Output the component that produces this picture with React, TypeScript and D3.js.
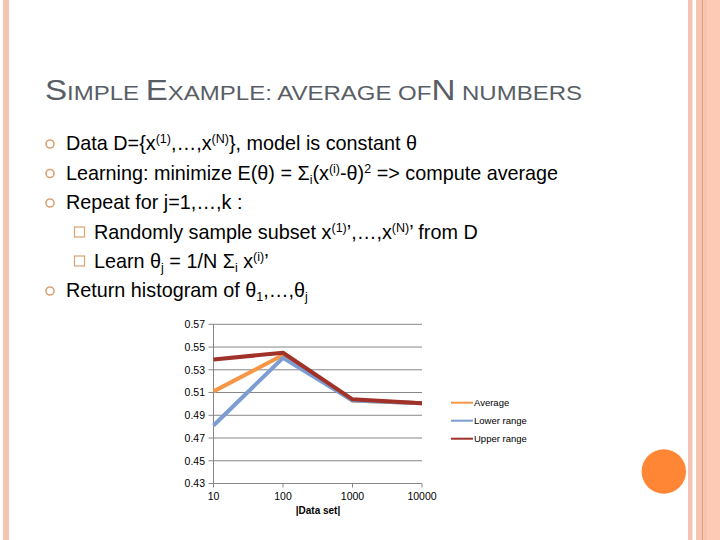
import React from "react";
import * as d3 from "d3";

const categories = ["10", "100", "1000", "10000"];
const averageVals = [0.511, 0.543, 0.503, 0.5005];
const lowerVals = [0.481, 0.5405, 0.503, 0.5005];
const upperVals = [0.539, 0.545, 0.504, 0.5005];
const yTickValues = [0.43, 0.45, 0.47, 0.49, 0.51, 0.53, 0.55, 0.57];
const seriesNames = ["Average", "Lower range", "Upper range"];
const xAxisTitle = "|Data set|";

const COLORS = ["#F79646", "#7C9CD2", "#A0322A"];
const FONT = "'Liberation Sans', Arial, sans-serif";

export default function App() {
  const W = 720, H = 540;
  const x = d3.scalePoint<string>().domain(categories).range([213.5, 422]);
  const y = d3.scaleLinear().domain([0.43, 0.57]).range([483.5, 324.3]);
  const line = d3
    .line<number>()
    .x((_, i) => x(categories[i]) as number)
    .y((d) => y(d));
  const series = [averageVals, lowerVals, upperVals];

  const bulletY = [150, 179.5, 209, 238.5, 267.5, 297];
  const fs = 19.8;
  const sup = { fontSize: 12.5 };

  return (
    <svg
      width={W}
      height={H}
      style={{ position: "absolute", left: 0, top: 0, background: "#fff" }}
      fontFamily={FONT}
    >
      <rect x={0} y={0} width={W} height={H} fill="#fff" />
      {/* borders */}
      <rect x={3} y={0} width={6} height={H} fill="#F5C4B1" />
      <rect x={688} y={0} width={4.5} height={H} fill="#F4C3B1" />
      <rect x={696} y={0} width={6} height={H} fill="#F8C3AF" />
      <rect x={702} y={0} width={1.3} height={H} fill="#E69C70" />
      <rect x={703.3} y={0} width={3.7} height={H} fill="#F8C3AF" />
      <rect x={707} y={0} width={13} height={H} fill="#FDCAB6" />
      <circle cx={663.8} cy={471.5} r={22.2} fill="#FF8635" />

      {/* title */}
      <text x={45} y={99.5} fill="#595E66" textLength={537} lengthAdjust="spacingAndGlyphs">
        <tspan fontSize={29}>S</tspan>
        <tspan fontSize={21}>IMPLE </tspan>
        <tspan fontSize={29}>E</tspan>
        <tspan fontSize={21}>XAMPLE: AVERAGE OF</tspan>
        <tspan fontSize={29}>N</tspan>
        <tspan fontSize={21}> NUMBERS</tspan>
      </text>

      {/* bullets */}
      {[0, 1, 2, 5].map((i) => (
        <circle key={i} cx={50} cy={bulletY[i] - 6} r={4} fill="none" stroke="#D9A274" strokeWidth={1.6} />
      ))}
      {[3, 4].map((i) => (
        <rect key={i} x={74.5} y={bulletY[i] - 11.5} width={10} height={10} fill="none" stroke="#D9A274" strokeWidth={1.2} />
      ))}
      <g fontSize={fs} fill="#000">
        <text x={66} y={bulletY[0]}>
          Data D={"{"}x<tspan {...sup} dy={-7}>(1)</tspan>
          <tspan dy={7}>,…,x</tspan>
          <tspan {...sup} dy={-7}>(N)</tspan>
          <tspan dy={7}>{"}"}, model is constant θ</tspan>
        </text>
        <text x={66} y={bulletY[1]}>
          Learning: minimize E(θ) = Σ<tspan {...sup} dy={4}>i</tspan>
          <tspan dy={-4}>(x</tspan>
          <tspan {...sup} dy={-7}>(i)</tspan>
          <tspan dy={7}>-θ)</tspan>
          <tspan {...sup} dy={-7}>2</tspan>
          <tspan dy={7}> =&gt; compute average</tspan>
        </text>
        <text x={66} y={bulletY[2]}>Repeat for j=1,…,k :</text>
        <text x={94} y={bulletY[3]}>
          Randomly sample subset x<tspan {...sup} dy={-7}>(1)</tspan>
          <tspan dy={7}>’,…,x</tspan>
          <tspan {...sup} dy={-7}>(N)</tspan>
          <tspan dy={7}>’ from D</tspan>
        </text>
        <text x={94} y={bulletY[4]}>
          Learn θ<tspan {...sup} dy={4}>j</tspan>
          <tspan dy={-4}>  = 1/N Σ</tspan>
          <tspan {...sup} dy={4}>i</tspan>
          <tspan dy={-4}> x</tspan>
          <tspan {...sup} dy={-7}>(i)</tspan>
          <tspan dy={7}>’</tspan>
        </text>
        <text x={66} y={bulletY[5]}>
          Return histogram of θ<tspan {...sup} dy={4}>1</tspan>
          <tspan dy={-4}>,…,θ</tspan>
          <tspan {...sup} dy={4}>j</tspan>
        </text>
      </g>

      {/* chart gridlines */}
      <g>
        {yTickValues.map((v) => (
          <g key={v}>
            <line x1={208.5} x2={422} y1={y(v)} y2={y(v)} stroke="#868686" strokeWidth={1} />
            <text x={205} y={y(v) + 3.8} fontSize={10.5} textAnchor="end" fill="#000">
              {v.toFixed(2)}
            </text>
          </g>
        ))}
        <line x1={213.5} x2={213.5} y1={y(0.57)} y2={y(0.43)} stroke="#868686" strokeWidth={1} />
        {categories.map((c) => (
          <g key={c}>
            <line x1={x(c)} x2={x(c)} y1={y(0.43)} y2={y(0.43) + 4} stroke="#868686" strokeWidth={1} />
            <text x={x(c)} y={y(0.43) + 16} fontSize={10.5} textAnchor="middle" fill="#000">
              {c}
            </text>
          </g>
        ))}
        <text x={318} y={514} fontSize={10} fontWeight="bold" textAnchor="middle" fill="#000">
          {xAxisTitle}
        </text>
      </g>

      {/* series */}
      {series.map((s, i) => (
        <path key={i} d={line(s) || ""} fill="none" stroke={COLORS[i]} strokeWidth={4} strokeLinejoin="round" />
      ))}

      {/* legend */}
      {seriesNames.map((n, i) => (
        <g key={n}>
          <line x1={451} x2={473} y1={402.7 + i * 18} y2={402.7 + i * 18} stroke={COLORS[i]} strokeWidth={2} />
          <text x={474} y={406.2 + i * 18} fontSize={9.5} fill="#000">
            {n}
          </text>
        </g>
      ))}
    </svg>
  );
}
